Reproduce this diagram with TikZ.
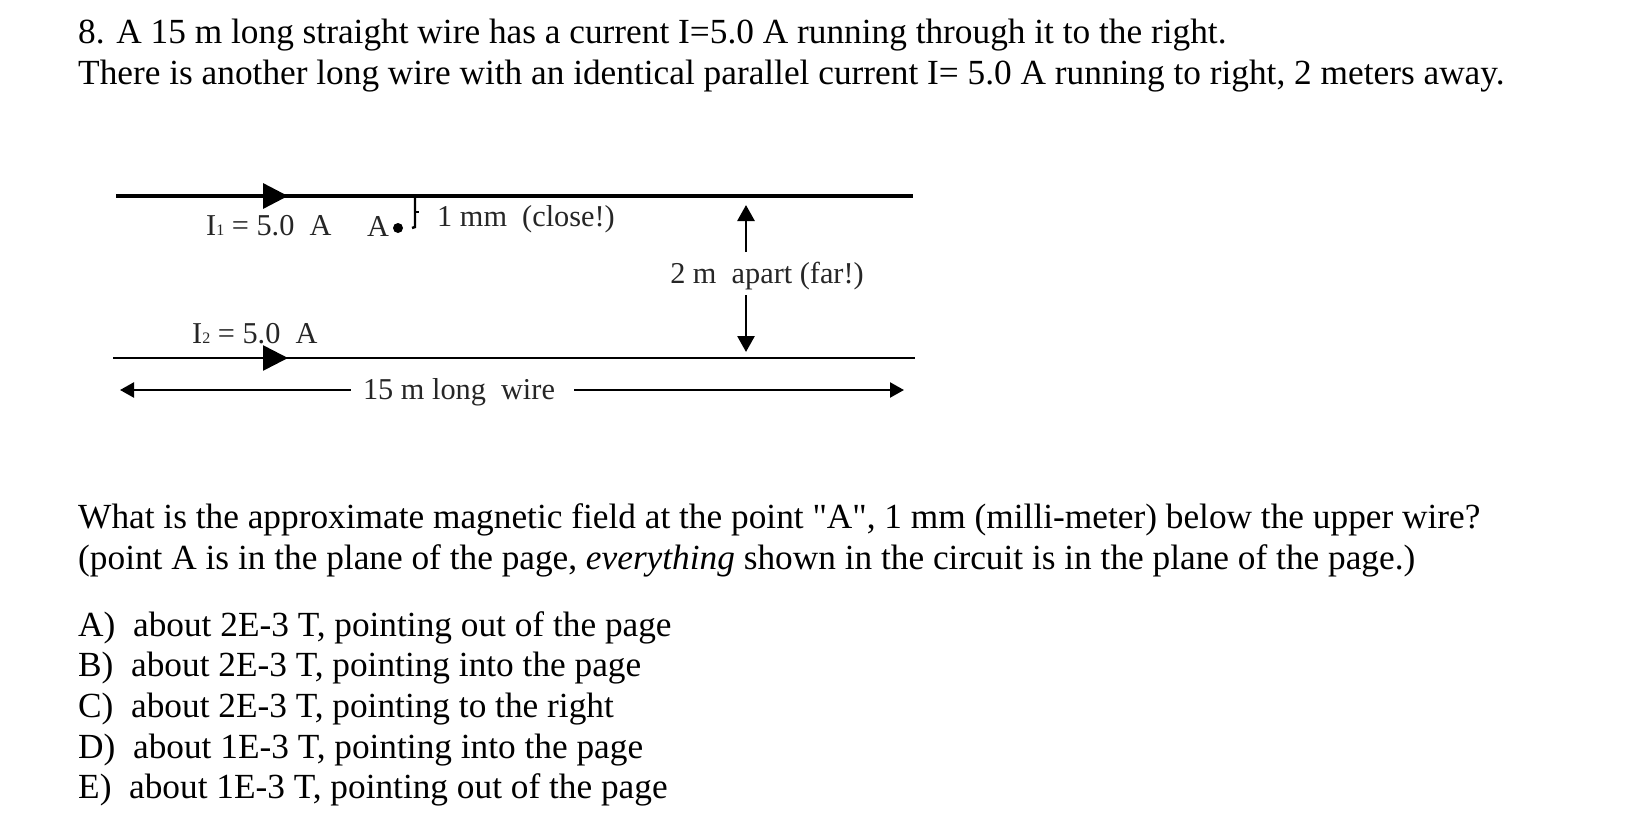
\documentclass[tikz,border=0pt]{standalone}
\usepackage{fontspec}
\setmainfont{Liberation Serif}
\newfontfamily\plainquote{Liberation Serif}
\usetikzlibrary{arrows.meta,positioning}
\tikzset{
  question/.style = {anchor=base west, inner sep=0pt, font=\fontsize{35.3}{40}\selectfont},
  label/.style = {inner sep=0pt, font=\fontsize{30.3}{34}\selectfont, text=black!85},
  wire/.style = {line width=3.4pt},
  thinwire/.style = {line width=2.6pt},
  current/.style = {-{Triangle[length=25pt,width=25pt]}},
  measure/.style = {line width=2.4pt, -{Triangle[length=14pt,width=15pt]}},
  apartarrow/.style = {line width=2.8pt, -{Triangle[length=16pt,width=17pt]}},
}
\newcommand{\smallsub}[1]{{\fontsize{16}{16}\selectfont #1}}

\begin{document}
\begin{tikzpicture}[x=1pt,y=-1pt]
\useasboundingbox[fill=white] (0,0) rectangle (1634,838);

% question text
\node [question] (head1) at (78,43) {8. A 15 m long straight wire has a current I=5.0 A running through it to the right.};
\node [question] (head2) at (78,84) {There is another long wire with an identical parallel current I= 5.0 A running to right, 2 meters away.};
\node [question] (ask1) at (78,528.5) {What is the approximate magnetic field at the point {\plainquote "}A{\plainquote "}, 1 mm (milli-meter) below the upper wire?};
\node [question] (ask2) at (78,569) {(point A is in the plane of the page, \textit{everything} shown in the circuit is in the plane of the page.)};
\node [question] (optA) at (78,636) {A)\ \ about 2E-3 T, pointing out of the page};
\node [question] (optB) at (78,676) {B)\ \ about 2E-3 T, pointing into the page};
\node [question] (optC) at (78,717) {C)\ \ about 2E-3 T, pointing to the right};
\node [question] (optD) at (78,758) {D)\ \ about 1E-3 T, pointing into the page};
\node [question] (optE) at (78,798) {E)\ \ about 1E-3 T, pointing out of the page};

% the two wires
\coordinate (upL) at (116,196);
\coordinate (upH) at (288,196);
\coordinate (upR) at (913,196);
\coordinate (lowL) at (113,358);
\coordinate (lowH) at (288,358);
\coordinate (lowR) at (915,358);
\draw [wire] (upL) -- (upR);
\draw [thinwire] (lowL) -- (lowR);
\draw [wire, current] (upL) -- (upH);
\draw [thinwire, current] (lowL) -- (lowH);

% labels
\node [label, anchor=base west] (i1) at (206,235) {I\smallsub{1} = 5.0\ \ A};
\node [label, anchor=base west] (i2) at (192,343) {I\smallsub{2} = 5.0\ \ A};
\node [label, anchor=base west] (ptA) at (367,236) {A};
\node [circle, fill=black, inner sep=0pt, minimum size=10pt] (dot) at (398,228) {};
\node [label, anchor=base west] (close) at (437,226) {1 mm\ \ (close!)};

% 1 mm bracket
\coordinate (brTop) at (415,197);
\coordinate (brBot) at (415,227);
\draw [line width=2.4pt] (brTop) -- (brBot) -- ++(-3,1);
\draw [line width=2.2pt] (415,212) -- ++(4,0);

% separation
\node [label] (apart) at (767,276) {2 m\ \ apart (far!)};
\coordinate (sepUp) at (746,205);
\coordinate (sepUpS) at (746,252);
\coordinate (sepLowS) at (746,295);
\coordinate (sepLow) at (746,352);
\draw [apartarrow] (sepUpS) -- (sepUp);
\draw [apartarrow] (sepLowS) -- (sepLow);

% length
\node [label, anchor=base] (len) at (459,399.5) {15 m long\ \ wire};
\coordinate (lenL) at (120,390);
\coordinate (lenR) at (904,390);
\draw [measure] (len.west |- lenL) ++(-12,0) -- (lenL);
\draw [measure] (len.east |- lenR) ++(19,0) -- (lenR);
\end{tikzpicture}
\end{document}
